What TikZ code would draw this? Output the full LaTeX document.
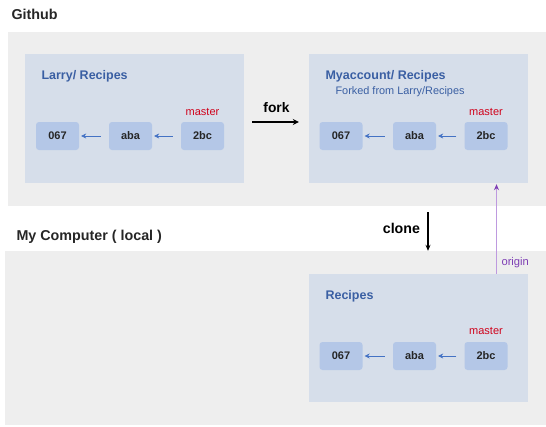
\documentclass[tikz,border=0pt]{standalone}
\usepackage{fontspec}
\setmainfont{Liberation Sans}
\usepackage{xcolor}
\usetikzlibrary{calc}
\usetikzlibrary{arrows.meta}
\definecolor{zonegray}{HTML}{EEEEEE}
\definecolor{repofill}{HTML}{D6DEEA}
\definecolor{commitfill}{HTML}{B4C7E7}
\definecolor{repoblue}{HTML}{3A5FA3}
\definecolor{linkblue}{HTML}{4472C4}
\definecolor{masterred}{HTML}{D0021B}
\definecolor{originline}{HTML}{BE9ADF}
\definecolor{originhead}{HTML}{7E3FB5}

\tikzset{
 zone/.style={rectangle,fill=zonegray,inner sep=0pt},
 repo/.style={rectangle,fill=repofill,inner sep=0pt,minimum width=219pt},
 commit/.style={rectangle,rounded corners=3pt,fill=commitfill,minimum width=43pt,minimum height=28pt,inner sep=0pt,text=black!85,font=\bfseries\fontsize{11}{12}\selectfont},
 parent/.style={-{Stealth[length=5pt,width=5pt]},linkblue,line width=0.6pt,shorten <=8pt,shorten >=2pt},
 reponame/.style={anchor=west,text=repoblue,font=\bfseries\fontsize{12.5}{14}\selectfont},
 branch/.style={text=masterred,font=\fontsize{11}{12}\selectfont},
 heading/.style={anchor=west,text=black!85,font=\bfseries\fontsize{14.3}{16}\selectfont}
}

\begin{document}
\begin{tikzpicture}[x=1pt,y=-1pt]
 \useasboundingbox (0,0) rectangle (546,426);
 % the two areas
 \node[zone,minimum width=538pt,minimum height=174pt] (github) at (277,119) {};
 \node[zone,minimum width=541pt,minimum height=174pt] (localpc) at (275.5,338) {};
 \node[heading] (githubtitle) at (8,14) {Github};
 \node[heading] (localtitle) at (13,237) {My Computer ( local )};

 % Larry's repository
 \node[repo,minimum height=129pt] (larry) at (134.5,118.5) {};
 \node[reponame] (larrytitle) at (38,76) {Larry/ Recipes};
 \node[commit] (larryc) at (57.5,136) {067};
 \node[commit] (larryb) at (130.5,136) {aba};
 \node[commit] (larrya) at (202.5,136) {2bc};
 \node[branch] (larrymaster) at (202.5,112) {master};
 \draw[parent](larrya) -- (larryb);
 \draw[parent](larryb) -- (larryc);

 % the fork on my account
 \node[repo,minimum height=129pt] (myacc) at (418.5,118.5) {};
 \node[reponame] (myacctitle) at (322,76) {Myaccount/ Recipes};
 \node[anchor=west,text=repoblue,font=\fontsize{10.9}{12}\selectfont] (myaccnote) at (332,92) {Forked from Larry/Recipes};
 \node[commit] (myaccc) at (341,136) {067};
 \node[commit] (myaccb) at (414.5,136) {aba};
 \node[commit] (myacca) at (486,136) {2bc};
 \node[branch] (myaccmaster) at (486,112) {master};
 \draw[parent](myacca) -- (myaccb);
 \draw[parent](myaccb) -- (myaccc);

 % the local clone
 \node[repo,minimum height=128pt] (local) at (418.5,338) {};
 \node[reponame] (localrepotitle) at (322,296) {Recipes};
 \node[commit] (localc) at (341,356) {067};
 \node[commit] (localb) at (414.5,356) {aba};
 \node[commit] (locala) at (486,356) {2bc};
 \node[branch] (localmaster) at (486,331) {master};
 \draw[parent](locala) -- (localb);
 \draw[parent](localb) -- (localc);

 % fork, clone and origin
 \draw[-{Stealth[length=6pt,width=6pt]},line width=1.6pt,shorten <=8pt,shorten >=10pt]([yshift=-3.5pt]larry.east) -- ([yshift=-3.5pt]myacc.west) node[midway,above=5pt,font=\bfseries\fontsize{13.8}{15}\selectfont] {fork};
 \draw[-{Stealth[length=6pt,width=5pt]},line width=1.4pt,shorten <=6pt,shorten >=0pt]([xshift=9.5pt]myacc.south |- github.south) -- ([xshift=9.5pt]myacc.south |- localpc.north) node[midway,left=4pt,font=\bfseries\fontsize{14.2}{16}\selectfont] {clone};
 \draw[-{Stealth[length=6pt,width=5pt,color=originhead]},originline,line width=0.8pt,shorten >=1pt]([xshift=78pt]local.north) -- ([xshift=78pt]myacc.south);
 \node[anchor=west,text=originhead,font=\fontsize{11.2}{12}\selectfont] (originlabel) at (498,263) {origin};
\end{tikzpicture}
\end{document}
